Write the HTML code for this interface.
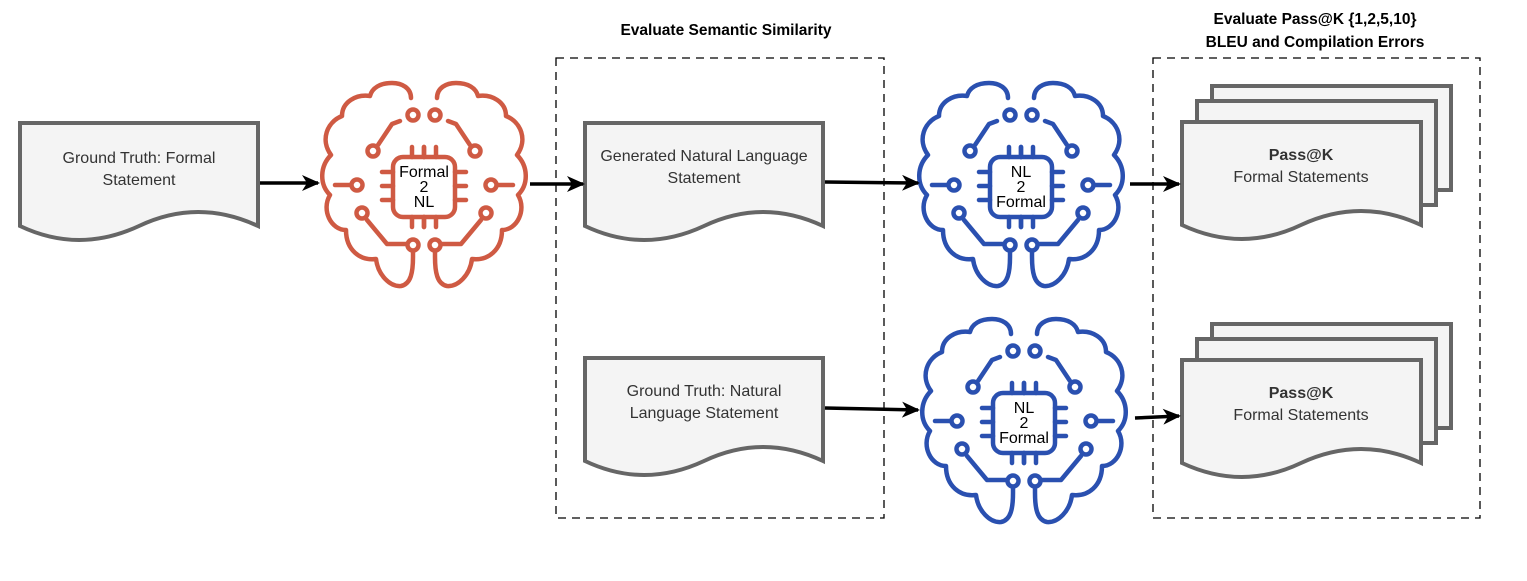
<!DOCTYPE html>
<html><head><meta charset="utf-8"><style>
html,body{margin:0;padding:0;background:#fff;}
svg{display:block;font-family:"Liberation Sans",Arial,sans-serif;}
</style></head><body>
<svg width="1527" height="581" viewBox="0 0 1527 581" xmlns="http://www.w3.org/2000/svg">
<defs>
<marker id="ah" markerWidth="18" markerHeight="16" refX="16" refY="8" orient="auto" markerUnits="userSpaceOnUse">
<path d="M0,0 L18,8 L0,16 L5,8 Z" fill="#000"/>
</marker>
<g id="half" fill="none" stroke-width="4.5" stroke-linecap="round" stroke-linejoin="round">
<path d="M411,98 C411,88 402,83 392,83 C380,83 372,88 370,96 C356,94 342,102 342,116 C327,122 320,140 331,155 C320,166 319,184 330,195 C321,210 331,230 346,230 C346,250 360,261 376,259 C378,275 390,287 401,286 C411,284 413,272 413,257 L413,251"/>
<circle cx="413" cy="115" r="5.5"/>
<path d="M400,121 L392,124 L378,145"/>
<circle cx="373" cy="151" r="5.5"/>
<path d="M335,185 L350,185"/>
<circle cx="357" cy="185" r="5.5"/>
<circle cx="362" cy="213" r="5.5"/>
<path d="M367,220 L387,244 L406,244"/>
<circle cx="413" cy="245" r="5.5"/>
<path d="M412,147 V157 M382,172 H393 M382,186 H393 M382,200 H393 M412,217 V227"/>
<path d="M424,147 V157 M424,217 V227"/>
</g>
<g id="brain">
<use href="#half"/>
<use href="#half" transform="translate(848,0) scale(-1,1)"/>
<rect x="393" y="157" width="62" height="60" rx="10" fill="none" stroke-width="4.5"/>
</g>
</defs>

<rect x="556" y="58" width="328" height="460" fill="none" stroke="#000" stroke-width="1.3" stroke-dasharray="8,6"/>
<rect x="1153" y="58" width="327" height="460" fill="none" stroke="#000" stroke-width="1.3" stroke-dasharray="8,6"/>
<text x="726" y="35" font-size="15.5" font-weight="bold" text-anchor="middle">Evaluate Semantic Similarity</text>
<text x="1315" y="24" font-size="15.5" font-weight="bold" text-anchor="middle">Evaluate Pass@K {1,2,5,10}</text>
<text x="1315" y="47" font-size="15.5" font-weight="bold" text-anchor="middle">BLEU and Compilation Errors</text>

<g fill="#f4f4f4" stroke="#666" stroke-width="4">
<path d="M20,123 H258 V226 Q198,198 139,226 Q79,254 20,226 Z"/>
<path d="M585,123 H823 V226 Q763,198 704,226 Q644,254 585,226 Z"/>
<path d="M585,358 H823 V461 Q763,433 704,461 Q644,489 585,461 Z"/>
<path d="M1212,86 H1451 V190 H1212 Z"/>
<path d="M1197,101 H1436 V205 H1197 Z"/>
<path d="M1182,122 H1421 V225 Q1361,197 1301,225 Q1242,253 1182,225 Z"/>
<path d="M1212,324 H1451 V428 H1212 Z"/>
<path d="M1197,339 H1436 V443 H1197 Z"/>
<path d="M1182,360 H1421 V463 Q1361,435 1301,463 Q1242,491 1182,463 Z"/>
</g>

<g font-size="16" fill="#333" text-anchor="middle">
<text x="139" y="163">Ground Truth: Formal</text>
<text x="139" y="185">Statement</text>
<text x="704" y="161">Generated Natural Language</text>
<text x="704" y="183">Statement</text>
<text x="704" y="396">Ground Truth: Natural</text>
<text x="704" y="418">Language Statement</text>
<text x="1301" y="160" font-weight="bold">Pass@K</text>
<text x="1301" y="182">Formal Statements</text>
<text x="1301" y="398" font-weight="bold">Pass@K</text>
<text x="1301" y="420">Formal Statements</text>
</g>

<g stroke="#cf5a43"><use href="#brain"/></g>
<g stroke="#2a50b0"><use href="#brain" transform="translate(597,0)"/></g>
<g stroke="#2a50b0"><use href="#brain" transform="translate(600,236)"/></g>
<g font-size="16" fill="#000" text-anchor="middle">
<text x="424" y="177">Formal</text><text x="424" y="192">2</text><text x="424" y="207">NL</text>
<text x="1021" y="177">NL</text><text x="1021" y="192">2</text><text x="1021" y="207">Formal</text>
<text x="1024" y="413">NL</text><text x="1024" y="428">2</text><text x="1024" y="443">Formal</text>
</g>

<g stroke="#000" stroke-width="3.5" fill="none" marker-end="url(#ah)">
<path d="M260,183 L318,183"/>
<path d="M530,184 L583,184"/>
<path d="M825,182 L918,183"/>
<path d="M1130,184 L1179,184"/>
<path d="M825,408 L918,410"/>
<path d="M1135,418 L1179,416"/>
</g>
</svg>
</body></html>
